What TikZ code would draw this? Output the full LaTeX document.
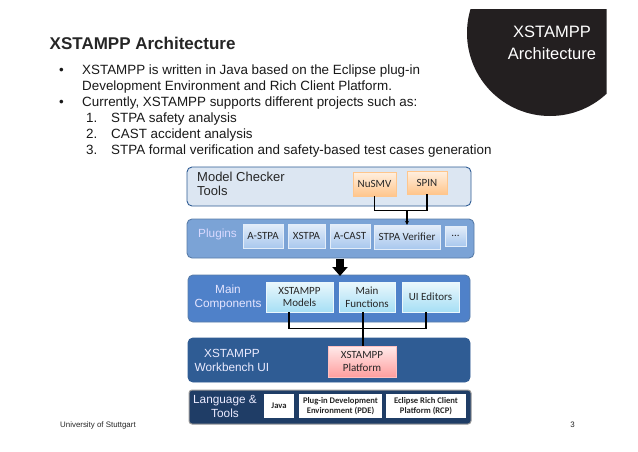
\documentclass[tikz,border=0pt]{standalone}
\usepackage{fontspec}
\setmainfont{Liberation Sans}
\newfontfamily\calfont{Carlito}
\usetikzlibrary{shadows,arrows.meta,calc}
\definecolor{dark}{HTML}{231F20}
\definecolor{c1}{HTML}{DCE6F2}\definecolor{c2}{HTML}{7BA3D6}\definecolor{c3}{HTML}{4F81C9}\definecolor{c4}{HTML}{2F5C94}\definecolor{c5}{HTML}{1F3D66}
\definecolor{p1}{HTML}{E3EDF9}\definecolor{p2}{HTML}{A9C8EE}
\definecolor{cy1}{HTML}{EAF7FC}\definecolor{cy2}{HTML}{A6DFF5}
\tikzset{
  x=1pt,y=-1pt,
  txt/.style={anchor=base west,inner sep=0,text=black!90,font=\fontsize{13.4}{16}\selectfont},
  lab/.style={inner sep=0,align=center,font=\fontsize{11.8}{14}\selectfont},
  ibox/.style={inner sep=0,align=center,font=\calfont\fontsize{11}{12.5}\selectfont,text=black!85,drop shadow={shadow xshift=.8pt,shadow yshift=-.8pt,fill=black!35,opacity=.6}},
  orangebox/.style={ibox,top color=orange!12,bottom color=orange!45,draw=orange!45!white,line width=.4pt},
  pluginbox/.style={ibox,top color=p1,bottom color=p2,draw=p1,line width=.4pt},
  cyanbox/.style={ibox,top color=cy1,bottom color=cy2,draw=cy1,line width=.4pt},
  redbox/.style={ibox,top color=red!8,bottom color=red!38,draw=red!25,line width=.4pt},
  whitebox/.style={draw=none,fill=white,inner sep=0,align=center,font=\calfont\bfseries\fontsize{8.6}{10.5}\selectfont,text=black!85},
  conn/.style={draw=black,line width=1.3pt},
}
\begin{document}
\begin{tikzpicture}
\useasboundingbox (0,0) rectangle (638,451);
\fill[white] (0,0) rectangle (638,451);
% corner disc
\begin{scope}
\clip (440,9) rectangle (606.5,130);
\fill[dark] (550,33) circle[radius=83];
\end{scope}
\node[inner sep=0,align=center,text=white,font=\fontsize{16.5}{22}\selectfont] (corner) at (552,43) {XSTAMPP\\Architecture};
\node[anchor=base west,inner sep=0,font=\bfseries\fontsize{17}{20}\selectfont,text=black!85] (title) at (49.5,49.5) {XSTAMPP Architecture};
\node[txt] (b1) at (59,74.5) {•};
\node[txt] (l1) at (82,74.5) {XSTAMPP is written in Java based on the Eclipse plug-in};
\node[txt] (l2) at (82,90.5) {Development Environment and Rich Client Platform.};
\node[txt] (b2) at (59,106.5) {•};
\node[txt] (l3) at (82,106.5) {Currently, XSTAMPP supports different projects such as:};
\node[txt] (n1) at (86,122.5) {1.};
\node[txt] (l4) at (111,122.5) {STPA safety analysis};
\node[txt] (n2) at (86,138) {2.};
\node[txt] (l5) at (111,138) {CAST accident analysis};
\node[txt] (n3) at (86,154) {3.};
\node[txt] (l6) at (111,154) {STPA formal verification and safety-based test cases generation};
% bands
\draw[rounded corners=5pt,draw=c4,line width=.9pt,fill=c1] (187,167) rectangle (471,206);
\draw[rounded corners=5pt,draw=c4!80,line width=.9pt,fill=c2] (187,219) rectangle (474,258);
\draw[rounded corners=5pt,draw=c4!80,line width=.9pt,fill=c3] (188,275) rectangle (470,322);
\draw[rounded corners=5pt,draw=c4,line width=.9pt,fill=c4] (188,338) rectangle (470,382);
\draw[rounded corners=3pt,draw=black!40,line width=1pt,fill=c5] (189,390) rectangle (471,424);
% band labels
\node[lab,anchor=west,align=left,text=black!85,font=\fontsize{13}{14.5}\selectfont] (lmc) at (197,184) {Model Checker\\Tools};
\node[lab,anchor=base west,text=white!85!blue] (lpl) at (198,237) {Plugins};
\node[lab,text=white!90!blue] (lmain) at (228,297) {Main\\Components};
\node[lab,text=white!92!blue] (lwb) at (232,360) {XSTAMPP\\Workbench UI};
\node[lab,text=white!92!blue] (llt) at (225,406) {Language \&\\Tools};
% inner boxes
\node[orangebox,minimum width=43pt,minimum height=24pt] (nusmv) at (374.5,184) {NuSMV};
\node[orangebox,minimum width=40pt,minimum height=23pt] (spin) at (427,182.5) {SPIN};
\node[pluginbox,minimum width=40pt,minimum height=24pt] (astpa) at (263,236) {A-STPA};
\node[pluginbox,minimum width=37pt,minimum height=24pt] (xstpa) at (306.5,236) {XSTPA};
\node[pluginbox,minimum width=40pt,minimum height=24pt] (acast) at (350,236) {A-CAST};
\node[pluginbox,minimum width=66pt,minimum height=24pt] (verifier) at (407,237) {STPA Verifier};
\node[pluginbox,minimum width=21pt,minimum height=20pt] (dots) at (455.5,236) {...};
\node[cyanbox,minimum width=67pt,minimum height=30pt] (models) at (299.5,297) {XSTAMPP\\Models};
\node[cyanbox,minimum width=56pt,minimum height=30pt] (functions) at (367,297) {Main\\Functions};
\node[cyanbox,minimum width=57pt,minimum height=30pt] (editors) at (430.5,297) {UI Editors};
\node[redbox,minimum width=68pt,minimum height=31pt] (platform) at (362,361.5) {XSTAMPP\\Platform};
\node[whitebox,minimum width=30pt,minimum height=24pt] (java) at (279,406) {Java};
\node[whitebox,minimum width=83pt,minimum height=24pt] (pde) at (340.5,406) {Plug-in Development\\Environment (PDE)};
\node[whitebox,minimum width=80pt,minimum height=24pt] (rcp) at (426,406) {Eclipse Rich Client\\Platform (RCP)};
% connectors
\coordinate (j1) at (407,210.3);
\coordinate (j2) at (363,328.3);
\coordinate (mx) at (289,312);
\coordinate (ex) at (426,312);
\draw[conn] (nusmv.south) |- (j1) -| (spin.south);
\draw[conn,-{Stealth[length=4pt,width=4pt]}] (j1) -- (verifier.north);
\draw[conn] (mx) |- (j2) -| (ex);
\draw[conn] (platform.north -| j2) -- (functions.south -| j2);
\coordinate (a1) at (340,258.5);
\coordinate (a2) at (340,276);
\draw[line width=8pt,black,-{Triangle[length=9pt,width=15pt]}] (a1) -- (a2);
% footer
\node[anchor=base west,inner sep=0,font=\fontsize{7.9}{10}\selectfont,text=black!85] (foot) at (60,427) {University of Stuttgart};
\node[anchor=base east,inner sep=0,font=\fontsize{7.9}{10}\selectfont,text=black!85] (page) at (575,427) {3};
\end{tikzpicture}
\end{document}
